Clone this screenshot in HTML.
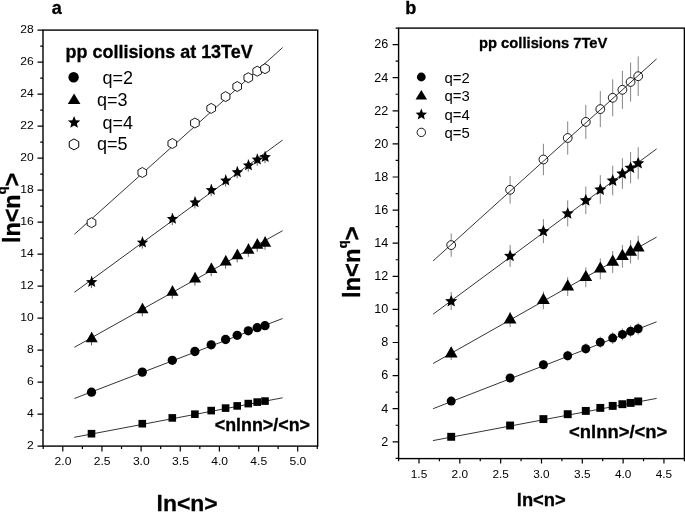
<!DOCTYPE html>
<html><head><meta charset="utf-8"><title>ln&lt;n^q&gt; vs ln&lt;n&gt;</title>
<style>html,body{margin:0;padding:0;background:#fff;overflow:hidden}svg{display:block}text{font-family:"Liberation Sans",Arial,Helvetica,sans-serif;fill:#000}.b{font-weight:bold;stroke:#000;stroke-width:.3px}</style></head><body>
<svg width="685" height="512" viewBox="0 0 685 512">
<rect width="685" height="512" fill="#fff"/>
<rect x="43.0" y="30.1" width="274.7" height="416" fill="none" stroke="#000" stroke-width="1.4"/>
<path d="M37.5 446.1H43M40.2 430.1H43M37.5 414.1H43M40.2 398.1H43M37.5 382.1H43M40.2 366.1H43M37.5 350.1H43M40.2 334.1H43M37.5 318.1H43M40.2 302.1H43M37.5 286.1H43M40.2 270.1H43M37.5 254.1H43M40.2 238.1H43M37.5 222.1H43M40.2 206.1H43M37.5 190.1H43M40.2 174.1H43M37.5 158.1H43M40.2 142.1H43M37.5 126.1H43M40.2 110.1H43M37.5 94.1H43M40.2 78.1H43M37.5 62.1H43M40.2 46.1H43M37.5 30.1H43M43.22 446.1V448.9M62.8 446.1V451.6M82.38 446.1V448.9M101.95 446.1V451.6M121.52 446.1V448.9M141.1 446.1V451.6M160.68 446.1V448.9M180.25 446.1V451.6M199.82 446.1V448.9M219.4 446.1V451.6M238.97 446.1V448.9M258.55 446.1V451.6M278.12 446.1V448.9M297.7 446.1V451.6M317.27 446.1V448.9" stroke="#000" stroke-width="1.2" fill="none"/>
<text transform="translate(33.8 449.1) scale(1.1 1)" font-size="11.0" text-anchor="end">2</text>
<text transform="translate(33.8 417.1) scale(1.1 1)" font-size="11.0" text-anchor="end">4</text>
<text transform="translate(33.8 385.1) scale(1.1 1)" font-size="11.0" text-anchor="end">6</text>
<text transform="translate(33.8 353.1) scale(1.1 1)" font-size="11.0" text-anchor="end">8</text>
<text transform="translate(33.8 321.1) scale(1.1 1)" font-size="11.0" text-anchor="end">10</text>
<text transform="translate(33.8 289.1) scale(1.1 1)" font-size="11.0" text-anchor="end">12</text>
<text transform="translate(33.8 257.1) scale(1.1 1)" font-size="11.0" text-anchor="end">14</text>
<text transform="translate(33.8 225.1) scale(1.1 1)" font-size="11.0" text-anchor="end">16</text>
<text transform="translate(33.8 193.1) scale(1.1 1)" font-size="11.0" text-anchor="end">18</text>
<text transform="translate(33.8 161.1) scale(1.1 1)" font-size="11.0" text-anchor="end">20</text>
<text transform="translate(33.8 129.1) scale(1.1 1)" font-size="11.0" text-anchor="end">22</text>
<text transform="translate(33.8 97.1) scale(1.1 1)" font-size="11.0" text-anchor="end">24</text>
<text transform="translate(33.8 65.1) scale(1.1 1)" font-size="11.0" text-anchor="end">26</text>
<text transform="translate(33.8 33.1) scale(1.1 1)" font-size="11.0" text-anchor="end">28</text>
<text transform="translate(63 464.9) scale(1.07 1)" font-size="11.3" text-anchor="middle">2.0</text>
<text transform="translate(102.15 464.9) scale(1.07 1)" font-size="11.3" text-anchor="middle">2.5</text>
<text transform="translate(141.3 464.9) scale(1.07 1)" font-size="11.3" text-anchor="middle">3.0</text>
<text transform="translate(180.45 464.9) scale(1.07 1)" font-size="11.3" text-anchor="middle">3.5</text>
<text transform="translate(219.6 464.9) scale(1.07 1)" font-size="11.3" text-anchor="middle">4.0</text>
<text transform="translate(258.75 464.9) scale(1.07 1)" font-size="11.3" text-anchor="middle">4.5</text>
<text transform="translate(297.9 464.9) scale(1.07 1)" font-size="11.3" text-anchor="middle">5.0</text>
<line x1="74.4" y1="234.3" x2="282.6" y2="47.6" stroke="#000" stroke-width="0.8"/>
<line x1="74.4" y1="292.3" x2="282.6" y2="140.1" stroke="#000" stroke-width="0.8"/>
<line x1="74.4" y1="347.3" x2="282.6" y2="230.7" stroke="#000" stroke-width="0.8"/>
<line x1="74.4" y1="398.5" x2="282.6" y2="318.5" stroke="#000" stroke-width="0.8"/>
<line x1="74.2" y1="437.3" x2="282.6" y2="397.8" stroke="#000" stroke-width="0.8"/>
<line x1="91.5" y1="332.2" x2="91.5" y2="345.4" stroke="#333" stroke-width="0.8"/>
<line x1="142.3" y1="303.1" x2="142.3" y2="316.3" stroke="#333" stroke-width="0.8"/>
<line x1="172.3" y1="285.7" x2="172.3" y2="298.9" stroke="#333" stroke-width="0.8"/>
<line x1="194.9" y1="272.5" x2="194.9" y2="285.7" stroke="#333" stroke-width="0.8"/>
<line x1="211.2" y1="263" x2="211.2" y2="276.2" stroke="#333" stroke-width="0.8"/>
<line x1="225.6" y1="255.5" x2="225.6" y2="268.7" stroke="#333" stroke-width="0.8"/>
<line x1="237.2" y1="249.2" x2="237.2" y2="262.4" stroke="#333" stroke-width="0.8"/>
<line x1="248.3" y1="243.6" x2="248.3" y2="256.8" stroke="#333" stroke-width="0.8"/>
<line x1="257.2" y1="238.6" x2="257.2" y2="251.8" stroke="#333" stroke-width="0.8"/>
<line x1="265" y1="236.6" x2="265" y2="249.8" stroke="#333" stroke-width="0.8"/>
<line x1="91.5" y1="276.1" x2="91.5" y2="288.1" stroke="#333" stroke-width="0.8"/>
<line x1="142.3" y1="236.6" x2="142.3" y2="248.6" stroke="#333" stroke-width="0.8"/>
<line x1="172.3" y1="213" x2="172.3" y2="225" stroke="#333" stroke-width="0.8"/>
<line x1="194.9" y1="196.5" x2="194.9" y2="208.5" stroke="#333" stroke-width="0.8"/>
<line x1="211.2" y1="184.1" x2="211.2" y2="196.1" stroke="#333" stroke-width="0.8"/>
<line x1="225.6" y1="174.6" x2="225.6" y2="186.6" stroke="#333" stroke-width="0.8"/>
<line x1="237.2" y1="166.3" x2="237.2" y2="178.3" stroke="#333" stroke-width="0.8"/>
<line x1="248.3" y1="159.5" x2="248.3" y2="171.5" stroke="#333" stroke-width="0.8"/>
<line x1="257.2" y1="153.7" x2="257.2" y2="165.7" stroke="#333" stroke-width="0.8"/>
<line x1="265" y1="151.2" x2="265" y2="163.2" stroke="#333" stroke-width="0.8"/>
<polygon points="91.5,217.7 95.83,220.2 95.83,225.2 91.5,227.7 87.17,225.2 87.17,220.2" fill="#fff" stroke="#000" stroke-width="0.9"/>
<polygon points="142.3,167.5 146.63,170 146.63,175 142.3,177.5 137.97,175 137.97,170" fill="#fff" stroke="#000" stroke-width="0.9"/>
<polygon points="172.3,138.5 176.63,141 176.63,146 172.3,148.5 167.97,146 167.97,141" fill="#fff" stroke="#000" stroke-width="0.9"/>
<polygon points="194.9,118 199.23,120.5 199.23,125.5 194.9,128 190.57,125.5 190.57,120.5" fill="#fff" stroke="#000" stroke-width="0.9"/>
<polygon points="211.2,103.4 215.53,105.9 215.53,110.9 211.2,113.4 206.87,110.9 206.87,105.9" fill="#fff" stroke="#000" stroke-width="0.9"/>
<polygon points="225.6,91.6 229.93,94.1 229.93,99.1 225.6,101.6 221.27,99.1 221.27,94.1" fill="#fff" stroke="#000" stroke-width="0.9"/>
<polygon points="237.2,81.5 241.53,84 241.53,89 237.2,91.5 232.87,89 232.87,84" fill="#fff" stroke="#000" stroke-width="0.9"/>
<polygon points="248.3,72.7 252.63,75.2 252.63,80.2 248.3,82.7 243.97,80.2 243.97,75.2" fill="#fff" stroke="#000" stroke-width="0.9"/>
<polygon points="257.2,66.2 261.53,68.7 261.53,73.7 257.2,76.2 252.87,73.7 252.87,68.7" fill="#fff" stroke="#000" stroke-width="0.9"/>
<polygon points="265,63.7 269.33,66.2 269.33,71.2 265,73.7 260.67,71.2 260.67,66.2" fill="#fff" stroke="#000" stroke-width="0.9"/>
<polygon points="91.7,276.1 93.32,279.88 97.41,280.25 94.32,282.95 95.23,286.95 91.7,284.85 88.17,286.95 89.08,282.95 85.99,280.25 90.08,279.88" fill="#000"/>
<polygon points="142.5,236.6 144.12,240.38 148.21,240.75 145.12,243.45 146.03,247.45 142.5,245.35 138.97,247.45 139.88,243.45 136.79,240.75 140.88,240.38" fill="#000"/>
<polygon points="172.5,213 174.12,216.78 178.21,217.15 175.12,219.85 176.03,223.85 172.5,221.75 168.97,223.85 169.88,219.85 166.79,217.15 170.88,216.78" fill="#000"/>
<polygon points="195.1,196.5 196.72,200.28 200.81,200.65 197.72,203.35 198.63,207.35 195.1,205.25 191.57,207.35 192.48,203.35 189.39,200.65 193.48,200.28" fill="#000"/>
<polygon points="211.4,184.1 213.02,187.88 217.11,188.25 214.02,190.95 214.93,194.95 211.4,192.85 207.87,194.95 208.78,190.95 205.69,188.25 209.78,187.88" fill="#000"/>
<polygon points="225.8,174.6 227.42,178.38 231.51,178.75 228.42,181.45 229.33,185.45 225.8,183.35 222.27,185.45 223.18,181.45 220.09,178.75 224.18,178.38" fill="#000"/>
<polygon points="237.4,166.3 239.02,170.08 243.11,170.45 240.02,173.15 240.93,177.15 237.4,175.05 233.87,177.15 234.78,173.15 231.69,170.45 235.78,170.08" fill="#000"/>
<polygon points="248.5,159.5 250.12,163.28 254.21,163.65 251.12,166.35 252.03,170.35 248.5,168.25 244.97,170.35 245.88,166.35 242.79,163.65 246.88,163.28" fill="#000"/>
<polygon points="257.4,153.7 259.02,157.48 263.11,157.85 260.02,160.55 260.93,164.55 257.4,162.45 253.87,164.55 254.78,160.55 251.69,157.85 255.78,157.48" fill="#000"/>
<polygon points="265.2,151.2 266.82,154.98 270.91,155.35 267.82,158.05 268.73,162.05 265.2,159.95 261.67,162.05 262.58,158.05 259.49,155.35 263.58,154.98" fill="#000"/>
<polygon points="91.7,331.75 97.7,342.25 85.7,342.25" fill="#000"/>
<polygon points="142.5,302.65 148.5,313.15 136.5,313.15" fill="#000"/>
<polygon points="172.5,285.25 178.5,295.75 166.5,295.75" fill="#000"/>
<polygon points="195.1,272.05 201.1,282.55 189.1,282.55" fill="#000"/>
<polygon points="211.4,262.55 217.4,273.05 205.4,273.05" fill="#000"/>
<polygon points="225.8,255.05 231.8,265.55 219.8,265.55" fill="#000"/>
<polygon points="237.4,248.75 243.4,259.25 231.4,259.25" fill="#000"/>
<polygon points="248.5,243.15 254.5,253.65 242.5,253.65" fill="#000"/>
<polygon points="257.4,238.15 263.4,248.65 251.4,248.65" fill="#000"/>
<polygon points="265.2,236.15 271.2,246.65 259.2,246.65" fill="#000"/>
<circle cx="91.5" cy="392.2" r="4.65" fill="#000"/>
<circle cx="142.3" cy="372.1" r="4.65" fill="#000"/>
<circle cx="172.3" cy="360.3" r="4.65" fill="#000"/>
<circle cx="194.9" cy="351.5" r="4.65" fill="#000"/>
<circle cx="211.2" cy="344.8" r="4.65" fill="#000"/>
<circle cx="225.6" cy="339.5" r="4.65" fill="#000"/>
<circle cx="237.2" cy="335.3" r="4.65" fill="#000"/>
<circle cx="248.3" cy="330.8" r="4.65" fill="#000"/>
<circle cx="257.2" cy="327.7" r="4.65" fill="#000"/>
<circle cx="265" cy="325.7" r="4.65" fill="#000"/>
<rect x="87.7" y="429.9" width="7.6" height="7.6" fill="#000"/>
<rect x="138.5" y="419.9" width="7.6" height="7.6" fill="#000"/>
<rect x="168.5" y="414.1" width="7.6" height="7.6" fill="#000"/>
<rect x="191.1" y="410.4" width="7.6" height="7.6" fill="#000"/>
<rect x="207.4" y="406.8" width="7.6" height="7.6" fill="#000"/>
<rect x="221.8" y="404.3" width="7.6" height="7.6" fill="#000"/>
<rect x="233.4" y="402.1" width="7.6" height="7.6" fill="#000"/>
<rect x="244.5" y="399.8" width="7.6" height="7.6" fill="#000"/>
<rect x="253.4" y="398.3" width="7.6" height="7.6" fill="#000"/>
<rect x="261.2" y="397.3" width="7.6" height="7.6" fill="#000"/>
<text class="b" x="51.7" y="13.8" font-size="18.1">a</text>
<text class="b" x="65.6" y="57.6" font-size="17.95">pp collisions at 13TeV</text>
<circle cx="73.6" cy="77.2" r="5.2" fill="#000"/>
<text x="102.4" y="83.9" font-size="18">q=2</text>
<polygon points="74.1,93.4 80.45,104 67.75,104" fill="#000"/>
<text x="97.1" y="106.2" font-size="18">q=3</text>
<polygon points="74.1,116.1 75.8,120.25 80.28,120.59 76.86,123.5 77.92,127.86 74.1,125.5 70.28,127.86 71.34,123.5 67.92,120.59 72.4,120.25" fill="#000"/>
<text x="102.4" y="128.5" font-size="18">q=4</text>
<polygon points="74,138.9 78.76,141.65 78.76,147.15 74,149.9 69.24,147.15 69.24,141.65" fill="#fff" stroke="#000" stroke-width="1.0"/>
<text x="97.1" y="150.2" font-size="18">q=5</text>
<text class="b" x="214.8" y="431.4" font-size="17.85">&lt;nlnn&gt;/&lt;n&gt;</text>
<text class="b" x="156.6" y="510.8" font-size="22.9">ln&lt;n&gt;</text>
<text class="b" transform="translate(20 242.9) rotate(-90) scale(0.985 1)" font-size="23.6" stroke="#000" stroke-width="0.3">ln&lt;n<tspan font-size="13.5" dy="-14">q</tspan><tspan dy="14">&gt;</tspan></text>
<rect x="398.6" y="28.1" width="285.8" height="430.5" fill="none" stroke="#000" stroke-width="1.4"/>
<path d="M395.6 458.35H398.6M392.6 441.8H398.6M395.6 425.25H398.6M392.6 408.7H398.6M395.6 392.15H398.6M392.6 375.6H398.6M395.6 359.05H398.6M392.6 342.5H398.6M395.6 325.95H398.6M392.6 309.4H398.6M395.6 292.85H398.6M392.6 276.3H398.6M395.6 259.75H398.6M392.6 243.2H398.6M395.6 226.65H398.6M392.6 210.1H398.6M395.6 193.55H398.6M392.6 177H398.6M395.6 160.45H398.6M392.6 143.9H398.6M395.6 127.35H398.6M392.6 110.8H398.6M395.6 94.25H398.6M392.6 77.7H398.6M395.6 61.15H398.6M392.6 44.6H398.6M395.6 28.05H398.6M398.59 458.6V461.2M419 458.6V463.6M439.41 458.6V461.2M459.82 458.6V463.6M480.24 458.6V461.2M500.65 458.6V463.6M521.06 458.6V461.2M541.48 458.6V463.6M561.89 458.6V461.2M582.3 458.6V463.6M602.71 458.6V461.2M623.12 458.6V463.6M643.54 458.6V461.2M663.95 458.6V463.6M684.36 458.6V461.2" stroke="#000" stroke-width="1.2" fill="none"/>
<text x="388.3" y="445.6" font-size="12.6" text-anchor="end">2</text>
<text x="388.3" y="412.5" font-size="12.6" text-anchor="end">4</text>
<text x="388.3" y="379.4" font-size="12.6" text-anchor="end">6</text>
<text x="388.3" y="346.3" font-size="12.6" text-anchor="end">8</text>
<text x="388.3" y="313.2" font-size="12.6" text-anchor="end">10</text>
<text x="388.3" y="280.1" font-size="12.6" text-anchor="end">12</text>
<text x="388.3" y="247" font-size="12.6" text-anchor="end">14</text>
<text x="388.3" y="213.9" font-size="12.6" text-anchor="end">16</text>
<text x="388.3" y="180.8" font-size="12.6" text-anchor="end">18</text>
<text x="388.3" y="147.7" font-size="12.6" text-anchor="end">20</text>
<text x="388.3" y="114.6" font-size="12.6" text-anchor="end">22</text>
<text x="388.3" y="81.5" font-size="12.6" text-anchor="end">24</text>
<text x="388.3" y="48.4" font-size="12.6" text-anchor="end">26</text>
<text x="419" y="478.4" font-size="11.8" text-anchor="middle">1.5</text>
<text x="459.82" y="478.4" font-size="11.8" text-anchor="middle">2.0</text>
<text x="500.65" y="478.4" font-size="11.8" text-anchor="middle">2.5</text>
<text x="541.48" y="478.4" font-size="11.8" text-anchor="middle">3.0</text>
<text x="582.3" y="478.4" font-size="11.8" text-anchor="middle">3.5</text>
<text x="623.12" y="478.4" font-size="11.8" text-anchor="middle">4.0</text>
<text x="663.95" y="478.4" font-size="11.8" text-anchor="middle">4.5</text>
<line x1="451.2" y1="233.4" x2="451.2" y2="256.8" stroke="#777" stroke-width="0.9"/>
<line x1="510.1" y1="176" x2="510.1" y2="203.6" stroke="#777" stroke-width="0.9"/>
<line x1="543.4" y1="143.8" x2="543.4" y2="175.2" stroke="#777" stroke-width="0.9"/>
<line x1="567.7" y1="121.4" x2="567.7" y2="154.6" stroke="#777" stroke-width="0.9"/>
<line x1="585.8" y1="104.9" x2="585.8" y2="138.9" stroke="#777" stroke-width="0.9"/>
<line x1="600.3" y1="91.1" x2="600.3" y2="127.1" stroke="#777" stroke-width="0.9"/>
<line x1="612.7" y1="79.3" x2="612.7" y2="116.3" stroke="#777" stroke-width="0.9"/>
<line x1="622.4" y1="70.8" x2="622.4" y2="108.8" stroke="#777" stroke-width="0.9"/>
<line x1="630.6" y1="62.5" x2="630.6" y2="101.5" stroke="#777" stroke-width="0.9"/>
<line x1="638.2" y1="56.4" x2="638.2" y2="96" stroke="#777" stroke-width="0.9"/>
<line x1="451.2" y1="292.1" x2="451.2" y2="310.1" stroke="#777" stroke-width="0.9"/>
<line x1="510.1" y1="244.9" x2="510.1" y2="266.9" stroke="#777" stroke-width="0.9"/>
<line x1="543.4" y1="219.2" x2="543.4" y2="243.2" stroke="#777" stroke-width="0.9"/>
<line x1="567.7" y1="200.4" x2="567.7" y2="226.4" stroke="#777" stroke-width="0.9"/>
<line x1="585.8" y1="186.5" x2="585.8" y2="214.1" stroke="#777" stroke-width="0.9"/>
<line x1="600.3" y1="175.2" x2="600.3" y2="203.8" stroke="#777" stroke-width="0.9"/>
<line x1="612.7" y1="165.7" x2="612.7" y2="195.3" stroke="#777" stroke-width="0.9"/>
<line x1="622.4" y1="158.2" x2="622.4" y2="188.8" stroke="#777" stroke-width="0.9"/>
<line x1="630.6" y1="152" x2="630.6" y2="183.4" stroke="#777" stroke-width="0.9"/>
<line x1="638.2" y1="147.2" x2="638.2" y2="179.2" stroke="#777" stroke-width="0.9"/>
<line x1="451.2" y1="347.1" x2="451.2" y2="360.1" stroke="#777" stroke-width="0.9"/>
<line x1="510.1" y1="312.1" x2="510.1" y2="327.1" stroke="#777" stroke-width="0.9"/>
<line x1="543.4" y1="291.4" x2="543.4" y2="309.2" stroke="#777" stroke-width="0.9"/>
<line x1="567.7" y1="277.1" x2="567.7" y2="296.1" stroke="#777" stroke-width="0.9"/>
<line x1="585.8" y1="267.3" x2="585.8" y2="287.3" stroke="#777" stroke-width="0.9"/>
<line x1="600.3" y1="258.3" x2="600.3" y2="279.3" stroke="#777" stroke-width="0.9"/>
<line x1="612.7" y1="251" x2="612.7" y2="273" stroke="#777" stroke-width="0.9"/>
<line x1="622.4" y1="244.8" x2="622.4" y2="267.6" stroke="#777" stroke-width="0.9"/>
<line x1="630.6" y1="240.2" x2="630.6" y2="263.6" stroke="#777" stroke-width="0.9"/>
<line x1="638.2" y1="235.7" x2="638.2" y2="259.7" stroke="#777" stroke-width="0.9"/>
<line x1="451.2" y1="398.1" x2="451.2" y2="404.1" stroke="#777" stroke-width="0.9"/>
<line x1="510.1" y1="374" x2="510.1" y2="382" stroke="#777" stroke-width="0.9"/>
<line x1="543.4" y1="360.2" x2="543.4" y2="369.2" stroke="#777" stroke-width="0.9"/>
<line x1="567.7" y1="350.7" x2="567.7" y2="360.7" stroke="#777" stroke-width="0.9"/>
<line x1="585.8" y1="343.4" x2="585.8" y2="354" stroke="#777" stroke-width="0.9"/>
<line x1="600.3" y1="336.6" x2="600.3" y2="347.8" stroke="#777" stroke-width="0.9"/>
<line x1="612.7" y1="332.3" x2="612.7" y2="343.9" stroke="#777" stroke-width="0.9"/>
<line x1="622.4" y1="328.4" x2="622.4" y2="340.4" stroke="#777" stroke-width="0.9"/>
<line x1="630.6" y1="325.3" x2="630.6" y2="337.3" stroke="#777" stroke-width="0.9"/>
<line x1="638.2" y1="322.7" x2="638.2" y2="334.7" stroke="#777" stroke-width="0.9"/>
<circle cx="451.2" cy="245.1" r="4.4" fill="#fff" stroke="#000" stroke-width="0.9"/>
<circle cx="510.1" cy="189.8" r="4.4" fill="#fff" stroke="#000" stroke-width="0.9"/>
<circle cx="543.4" cy="159.5" r="4.4" fill="#fff" stroke="#000" stroke-width="0.9"/>
<circle cx="567.7" cy="138" r="4.4" fill="#fff" stroke="#000" stroke-width="0.9"/>
<circle cx="585.8" cy="121.9" r="4.4" fill="#fff" stroke="#000" stroke-width="0.9"/>
<circle cx="600.3" cy="109.1" r="4.4" fill="#fff" stroke="#000" stroke-width="0.9"/>
<circle cx="612.7" cy="97.8" r="4.4" fill="#fff" stroke="#000" stroke-width="0.9"/>
<circle cx="622.4" cy="89.8" r="4.4" fill="#fff" stroke="#000" stroke-width="0.9"/>
<circle cx="630.6" cy="82" r="4.4" fill="#fff" stroke="#000" stroke-width="0.9"/>
<circle cx="638.2" cy="76.2" r="4.4" fill="#fff" stroke="#000" stroke-width="0.9"/>
<line x1="433.1" y1="260.9" x2="656.6" y2="58.9" stroke="#000" stroke-width="0.8"/>
<line x1="433.1" y1="314.2" x2="656.6" y2="148.9" stroke="#000" stroke-width="0.8"/>
<line x1="433.1" y1="363.5" x2="656.6" y2="237.1" stroke="#000" stroke-width="0.8"/>
<line x1="433.1" y1="408.7" x2="656.6" y2="321.8" stroke="#000" stroke-width="0.8"/>
<line x1="432.9" y1="440.6" x2="656.6" y2="398.4" stroke="#000" stroke-width="0.8"/>
<polygon points="451.2,294.9 452.93,298.91 457.29,299.32 454.01,302.21 454.96,306.48 451.2,304.25 447.44,306.48 448.39,302.21 445.11,299.32 449.47,298.91" fill="#000"/>
<polygon points="510.1,249.7 511.83,253.71 516.19,254.12 512.91,257.01 513.86,261.28 510.1,259.05 506.34,261.28 507.29,257.01 504.01,254.12 508.37,253.71" fill="#000"/>
<polygon points="543.4,225 545.13,229.01 549.49,229.42 546.21,232.31 547.16,236.58 543.4,234.35 539.64,236.58 540.59,232.31 537.31,229.42 541.67,229.01" fill="#000"/>
<polygon points="567.7,207.2 569.43,211.21 573.79,211.62 570.51,214.51 571.46,218.78 567.7,216.55 563.94,218.78 564.89,214.51 561.61,211.62 565.97,211.21" fill="#000"/>
<polygon points="585.8,194.1 587.53,198.11 591.89,198.52 588.61,201.41 589.56,205.68 585.8,203.45 582.04,205.68 582.99,201.41 579.71,198.52 584.07,198.11" fill="#000"/>
<polygon points="600.3,183.3 602.03,187.31 606.39,187.72 603.11,190.61 604.06,194.88 600.3,192.65 596.54,194.88 597.49,190.61 594.21,187.72 598.57,187.31" fill="#000"/>
<polygon points="612.7,174.3 614.43,178.31 618.79,178.72 615.51,181.61 616.46,185.88 612.7,183.65 608.94,185.88 609.89,181.61 606.61,178.72 610.97,178.31" fill="#000"/>
<polygon points="622.4,167.3 624.13,171.31 628.49,171.72 625.21,174.61 626.16,178.88 622.4,176.65 618.64,178.88 619.59,174.61 616.31,171.72 620.67,171.31" fill="#000"/>
<polygon points="630.6,161.5 632.33,165.51 636.69,165.92 633.41,168.81 634.36,173.08 630.6,170.85 626.84,173.08 627.79,168.81 624.51,165.92 628.87,165.51" fill="#000"/>
<polygon points="638.2,157 639.93,161.01 644.29,161.42 641.01,164.31 641.96,168.58 638.2,166.35 634.44,168.58 635.39,164.31 632.11,161.42 636.47,161.01" fill="#000"/>
<polygon points="451.2,346.2 457.6,357.4 444.8,357.4" fill="#000"/>
<polygon points="510.1,312.2 516.5,323.4 503.7,323.4" fill="#000"/>
<polygon points="543.4,292.9 549.8,304.1 537,304.1" fill="#000"/>
<polygon points="567.7,279.2 574.1,290.4 561.3,290.4" fill="#000"/>
<polygon points="585.8,269.9 592.2,281.1 579.4,281.1" fill="#000"/>
<polygon points="600.3,261.4 606.7,272.6 593.9,272.6" fill="#000"/>
<polygon points="612.7,254.6 619.1,265.8 606.3,265.8" fill="#000"/>
<polygon points="622.4,248.8 628.8,260 616,260" fill="#000"/>
<polygon points="630.6,244.5 637,255.7 624.2,255.7" fill="#000"/>
<polygon points="638.2,240.3 644.6,251.5 631.8,251.5" fill="#000"/>
<circle cx="451.2" cy="401.1" r="4.5" fill="#000"/>
<circle cx="510.1" cy="378" r="4.5" fill="#000"/>
<circle cx="543.4" cy="364.7" r="4.5" fill="#000"/>
<circle cx="567.7" cy="355.7" r="4.5" fill="#000"/>
<circle cx="585.8" cy="348.7" r="4.5" fill="#000"/>
<circle cx="600.3" cy="342.2" r="4.5" fill="#000"/>
<circle cx="612.7" cy="338.1" r="4.5" fill="#000"/>
<circle cx="622.4" cy="334.4" r="4.5" fill="#000"/>
<circle cx="630.6" cy="331.3" r="4.5" fill="#000"/>
<circle cx="638.2" cy="328.7" r="4.5" fill="#000"/>
<rect x="447.25" y="432.85" width="7.9" height="7.9" fill="#000"/>
<rect x="506.15" y="421.55" width="7.9" height="7.9" fill="#000"/>
<rect x="539.45" y="415.15" width="7.9" height="7.9" fill="#000"/>
<rect x="563.75" y="410.25" width="7.9" height="7.9" fill="#000"/>
<rect x="581.85" y="406.95" width="7.9" height="7.9" fill="#000"/>
<rect x="596.35" y="403.95" width="7.9" height="7.9" fill="#000"/>
<rect x="608.75" y="401.95" width="7.9" height="7.9" fill="#000"/>
<rect x="618.45" y="400.25" width="7.9" height="7.9" fill="#000"/>
<rect x="626.65" y="398.95" width="7.9" height="7.9" fill="#000"/>
<rect x="634.25" y="397.45" width="7.9" height="7.9" fill="#000"/>
<text class="b" x="405.3" y="13.6" font-size="18.1">b</text>
<text class="b" x="479" y="48.2" font-size="14.75">pp collisions 7TeV</text>
<circle cx="421.3" cy="77" r="4.4" fill="#000"/>
<text x="444.5" y="82.8" font-size="14.9">q=2</text>
<polygon points="421.3,89.9 427.05,99.5 415.55,99.5" fill="#000"/>
<text x="444.5" y="101.1" font-size="14.9">q=3</text>
<polygon points="421.3,108.6 422.89,112.42 427.01,112.75 423.87,115.43 424.83,119.45 421.3,117.3 417.77,119.45 418.73,115.43 415.59,112.75 419.71,112.42" fill="#000"/>
<text x="444.5" y="119.7" font-size="14.9">q=4</text>
<circle cx="421.3" cy="132.4" r="4.2" fill="#fff" stroke="#000" stroke-width="0.9"/>
<text x="444.5" y="138" font-size="14.9">q=5</text>
<text class="b" x="569" y="437.6" font-size="18.45">&lt;nlnn&gt;/&lt;n&gt;</text>
<text class="b" x="516.8" y="505.5" font-size="18.35">ln&lt;n&gt;</text>
<text class="b" transform="translate(360.2 298.0) rotate(-90) scale(1.005 1)" font-size="23.6" stroke="#000" stroke-width="0.3">ln&lt;n<tspan font-size="13.5" dy="-13.5">q</tspan><tspan dy="13.5">&gt;</tspan></text>
</svg></body></html>
